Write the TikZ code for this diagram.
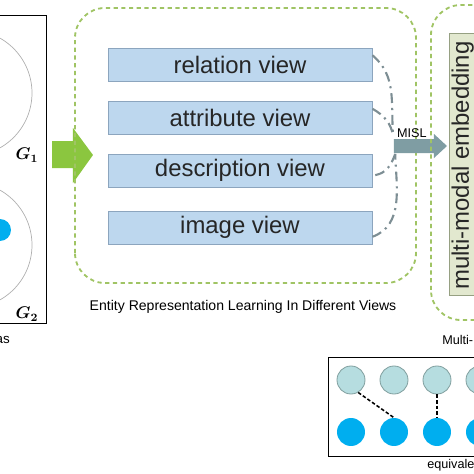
\documentclass[tikz,border=0pt]{standalone}
\usepackage{fontspec}
\setmainfont{Liberation Sans}
\usepackage{bm}
\definecolor{viewfill}{RGB}{189,215,238}
\definecolor{viewedge}{RGB}{140,165,190}
\definecolor{groupgreen}{RGB}{160,196,100}
\definecolor{arrowgreen}{RGB}{139,198,63}
\definecolor{mislgray}{RGB}{127,157,163}
\definecolor{linkgray}{RGB}{125,142,148}
\definecolor{embfill}{RGB}{226,232,207}
\definecolor{embedge}{RGB}{150,160,130}
\definecolor{entlight}{RGB}{182,221,224}
\definecolor{entedge}{RGB}{130,160,160}
\definecolor{entblue}{RGB}{0,174,239}
\definecolor{arcgray}{RGB}{175,175,175}

\begin{document}
\begin{tikzpicture}[x=1cm,y=1cm,
  viewbox/.style={draw=viewedge,fill=viewfill,line width=0.6pt,minimum width=6.6cm,minimum height=0.825cm,inner sep=0pt,font=\fontsize{17}{20}\selectfont,text=black!85},
  groupbox/.style={draw=groupgreen,line width=1.3pt,rounded corners=0.75cm,dash pattern=on 3pt off 2.5pt},
  misllink/.style={draw=linkgray,line width=1.5pt,dash pattern=on 7pt off 3.5pt on 1.5pt off 3.5pt},
  topent/.style={circle,draw=entedge,fill=entlight,line width=0.6pt,minimum size=0.7cm,inner sep=0pt},
  botent/.style={circle,fill=entblue,minimum size=0.7cm,inner sep=0pt},
  eqlink/.style={black,line width=1.1pt,dash pattern=on 2.5pt off 1.5pt}]
\useasboundingbox (0,0) rectangle (11.85,11.85);

% input graphs
\draw[line width=0.6pt] (-0.5,3.775) rectangle (1.15,11.475);
\draw[arcgray,line width=0.5pt] (-0.775,9.525) circle (1.575);
\draw[arcgray,line width=0.5pt] (-0.775,5.725) circle (1.575);
\fill[entblue] (0,6.1) circle (0.275);
\node[font=\fontsize{12}{14}\selectfont] (g1) at (0.675,7.975) {$\bm{G_1}$};
\node[font=\fontsize{12}{14}\selectfont] (g2) at (0.675,4.0) {$\bm{G_2}$};
\node[anchor=east,font=\fontsize{9.5}{11}\selectfont,inner sep=0pt] (inlbl) at (0.25,3.35) {as};

\fill[arrowgreen] (1.3,7.65) -- (1.825,7.65) -- (1.825,7.275) -- (2.325,7.975) -- (1.825,8.65) -- (1.825,8.325) -- (1.3,8.325) -- cycle;

% views
\draw[groupbox] (1.875,4.775) rectangle (10.4,11.65);
\node[viewbox] (rel) at (6.0,10.2375) {relation view};
\node[viewbox] (attr) at (6.0,8.9) {attribute view};
\node[viewbox] (desc) at (6.0,7.5875) {description view};
\node[viewbox] (img) at (6.0,6.1625) {image view};
\node[font=\fontsize{10}{12}\selectfont] (viewlbl) at (6.075,4.175) {Entity Representation Learning In Different Views};

% MISL
\fill[mislgray] (9.85,8.025) -- (10.85,8.025) -- (10.85,7.9) -- (11.175,8.2) -- (10.85,8.5) -- (10.85,8.375) -- (9.85,8.375) -- cycle;
\node[anchor=west,font=\fontsize{9}{11}\selectfont,inner sep=0pt] (misl) at (9.92,8.525) {MISL};
\coordinate (mtop) at (9.83,8.45);
\coordinate (mbot) at (9.88,8.0);
\draw[misllink] (rel.4) to[out=-40,in=95] (mtop);
\draw[misllink] (attr.4) to[out=-30,in=100] (mtop);
\draw[misllink] ([xshift=2pt]desc.-2) to[out=10,in=-110] (mbot);
\draw[misllink] (img.-4) to[out=20,in=-88] (mbot);

% multi-modal embedding
\draw[groupbox] (10.775,3.85) rectangle (13.2,11.725);
\draw[draw=embedge,fill=embfill,line width=0.6pt] (11.225,4.475) rectangle (13.2,11.025);
\node[rotate=90,anchor=base,font=\fontsize{17}{20}\selectfont,text=black!85] (emb) at (11.72,7.71) {multi-modal embedding};
\node[anchor=west,font=\fontsize{9}{11}\selectfont,inner sep=0pt] (emblbl) at (11.05,3.35) {Multi-};

% equivalent entities
\draw[line width=0.6pt] (8.2,0.45) rectangle (13.2,2.925);
\foreach \i/\x in {1/8.775,2/9.85,3/10.925,4/12.0} {
  \node[topent] (t\i) at (\x,2.35) {};
  \node[botent] (b\i) at (\x,1.05) {};
}
\draw[eqlink] (t1.-60) -- (b2.north);
\draw[eqlink] (t3.south) -- (b3.north);
\node[anchor=west,font=\fontsize{9}{11}\selectfont,inner sep=0pt] (eqlbl) at (10.675,0.225) {equivale};

\end{tikzpicture}
\end{document}
